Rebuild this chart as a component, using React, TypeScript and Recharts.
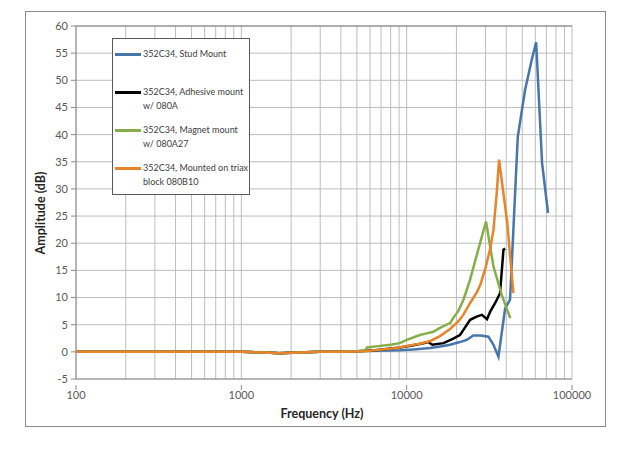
import { LineChart, Line, XAxis, YAxis, CartesianGrid, Legend, ReferenceLine } from 'recharts';

// frequency sweep per mounting method (Hz / dB)
const studFreq = [100, 150, 200, 300, 500, 700, 1000, 1400, 1700, 2200, 3000, 4000, 5000, 6500, 8000, 9100, 11000, 13900, 16000, 18300, 21000, 23100, 25300, 28000, 31200, 33500, 35900, 39400, 42200, 47000, 52000, 57100, 60700, 65900, 71600];
const studAmp = [0, 0, 0, 0, 0, 0, 0, -0.1, -0.25, -0.1, 0, 0, 0.1, 0.2, 0.25, 0.3, 0.45, 0.7, 1.0, 1.3, 1.8, 2.2, 3.0, 3.0, 2.8, 1.3, -0.9, 8.0, 9.6, 39.6, 48.2, 53.8, 57.0, 34.8, 25.6];

const adhesiveFreq = [100, 150, 200, 300, 500, 700, 1000, 1400, 1700, 2200, 3000, 4000, 5000, 6500, 8000, 9100, 11000, 12600, 13500, 14300, 16700, 19000, 21000, 22000, 24200, 26500, 28500, 30600, 32000, 34300, 36700, 38500, 39400];
const adhesiveAmp = [0, 0, 0, 0, 0, 0, 0, -0.1, -0.25, -0.1, 0, 0, 0.1, 0.3, 0.6, 0.8, 1.2, 1.6, 1.8, 1.3, 1.6, 2.4, 3.1, 4.0, 5.9, 6.5, 6.8, 6.0, 7.4, 9.0, 10.8, 18.8, 19.0];

const magnetFreq = [100, 150, 200, 300, 500, 700, 1000, 1400, 1700, 2200, 3000, 4000, 5000, 5600, 5750, 6900, 8000, 9100, 10000, 12000, 13200, 14500, 15900, 18300, 19200, 20500, 22000, 24200, 25400, 27500, 30200, 33500, 37600, 42300];
const magnetAmp = [0, 0, 0, 0, 0, 0, 0, -0.1, -0.25, -0.1, 0, 0, 0.1, 0.2, 0.8, 1.1, 1.3, 1.6, 2.2, 3.1, 3.4, 3.7, 4.4, 5.3, 6.3, 7.5, 9.5, 13.3, 15.7, 19.5, 24.0, 15.7, 10.5, 6.2];

const triaxFreq = [100, 150, 200, 300, 500, 700, 1000, 1400, 1700, 2200, 3000, 4000, 5500, 6900, 8700, 11000, 12000, 13200, 13900, 15900, 18300, 20500, 22000, 24200, 26600, 28000, 30000, 32000, 33500, 35000, 36200, 40500, 44200];
const triaxAmp = [0, 0, 0, 0, 0, 0, 0, -0.1, -0.25, -0.1, 0, 0, 0.1, 0.4, 0.7, 1.3, 1.5, 1.8, 2.0, 2.9, 4.2, 5.6, 6.8, 9.0, 11.0, 12.5, 15.5, 19.0, 22.5, 29.0, 35.4, 24.0, 10.8];

const seriesLabels = [
  ['352C34, Stud Mount'],
  ['352C34, Adhesive mount', 'w/ 080A'],
  ['352C34, Magnet mount', 'w/ 080A27'],
  ['352C34, Mounted on triax', 'block 080B10'],
];
const seriesColors = ['#4676ac', '#000000', '#86ae48', '#e8842a'];

const decades = [100, 1000, 10000, 100000];
const xTicks = [
  100, 200, 300, 400, 500, 600, 700, 800, 900,
  1000, 2000, 3000, 4000, 5000, 6000, 7000, 8000, 9000,
  10000, 20000, 30000, 40000, 50000, 60000, 70000, 80000, 90000,
  100000,
];
const yTicks = [-5, 0, 5, 10, 15, 20, 25, 30, 35, 40, 45, 50, 55, 60];

const FONT = 'Lato, "Open Sans", sans-serif';

const toPoints = (freq: number[], amp: number[]) => freq.map((f, i) => ({ f, amp: amp[i] }));

const series = [
  toPoints(studFreq, studAmp),
  toPoints(adhesiveFreq, adhesiveAmp),
  toPoints(magnetFreq, magnetAmp),
  toPoints(triaxFreq, triaxAmp),
];

// only decades get a label and a tick mark, the rest are grid only
const FreqTick = ({ x, y, payload }: any) => {
  if (!decades.includes(payload.value)) return <g />;
  return (
    <g>
      <line x1={x} x2={x} y1={y - 2} y2={y + 3} stroke="#8c8c8c" />
      <text x={x} y={y + 12} textAnchor="middle" fontSize={11} fill="#595959" fontFamily={FONT}>
        {payload.value}
      </text>
    </g>
  );
};

const LegendBox = () => (
  <div
    style={{
      width: 136,
      height: 155,
      border: '1px solid #595959',
      background: '#fff',
      fontFamily: FONT,
      fontSize: 9,
      color: '#404040',
      position: 'relative',
    }}
  >
    {seriesLabels.map((lines, i) => (
      <div key={i} style={{ position: 'absolute', left: 2, top: 8 + i * 38, display: 'flex' }}>
        <div style={{ width: 26, height: 3, background: seriesColors[i], marginTop: 6 }} />
        <div style={{ marginLeft: 2, lineHeight: '14px' }}>
          {lines.map((l) => (
            <div key={l}>{l}</div>
          ))}
        </div>
      </div>
    ))}
  </div>
);

export default function App() {
  return (
    <div style={{ position: 'absolute', left: 0, top: 0, width: 619, height: 450, background: '#fff' }}>
      <div
        style={{
          position: 'absolute',
          left: 25,
          top: 11,
          width: 579,
          height: 414,
          border: '1px solid #8c8c8c',
        }}
      />
      <div style={{ position: 'absolute', left: 0, top: 0 }}>
        <LineChart width={619} height={450} margin={{ top: 26, right: 47, left: 36, bottom: 41 }}>
          <CartesianGrid stroke="#bdbdbd" />
          <XAxis
            type="number"
            dataKey="f"
            scale="log"
            domain={[100, 100000]}
            allowDataOverflow
            ticks={xTicks}
            interval={0}
            tick={<FreqTick />}
            tickLine={false}
            axisLine={{ stroke: '#8c8c8c' }}
            height={30}
          />
          <YAxis
            type="number"
            domain={[-5, 60]}
            ticks={yTicks}
            interval={0}
            width={40}
            tickSize={5}
            tickMargin={3}
            tickLine={{ stroke: '#8c8c8c' }}
            axisLine={{ stroke: '#8c8c8c' }}
            tick={{ fontSize: 11, fill: '#595959', fontFamily: FONT }}
          />
          <ReferenceLine y={60} stroke="#7f7f7f" />
          {series.map((pts, i) => (
            <Line
              key={i}
              data={pts}
              dataKey="amp"
              name={seriesLabels[i].join(' ')}
              type="linear"
              stroke={seriesColors[i]}
              strokeWidth={2.5}
              dot={false}
              isAnimationActive={false}
            />
          ))}
          <Legend
            layout="vertical"
            align="center"
            verticalAlign="middle"
            content={<LegendBox />}
            wrapperStyle={{ left: 112, top: 38, width: 138, height: 157 }}
          />
        </LineChart>
      </div>
      <div
        style={{
          position: 'absolute',
          left: 40,
          top: 213,
          transform: 'translate(-50%, -50%) rotate(-90deg)',
          whiteSpace: 'nowrap',
          fontFamily: FONT,
          fontWeight: 700,
          fontSize: 12.5,
          color: '#262626',
        }}
      >
        Amplitude (dB)
      </div>
      <div
        style={{
          position: 'absolute',
          left: 322,
          top: 413,
          transform: 'translate(-50%, -50%)',
          whiteSpace: 'nowrap',
          fontFamily: FONT,
          fontWeight: 700,
          fontSize: 12.5,
          color: '#262626',
        }}
      >
        Frequency (Hz)
      </div>
    </div>
  );
}
